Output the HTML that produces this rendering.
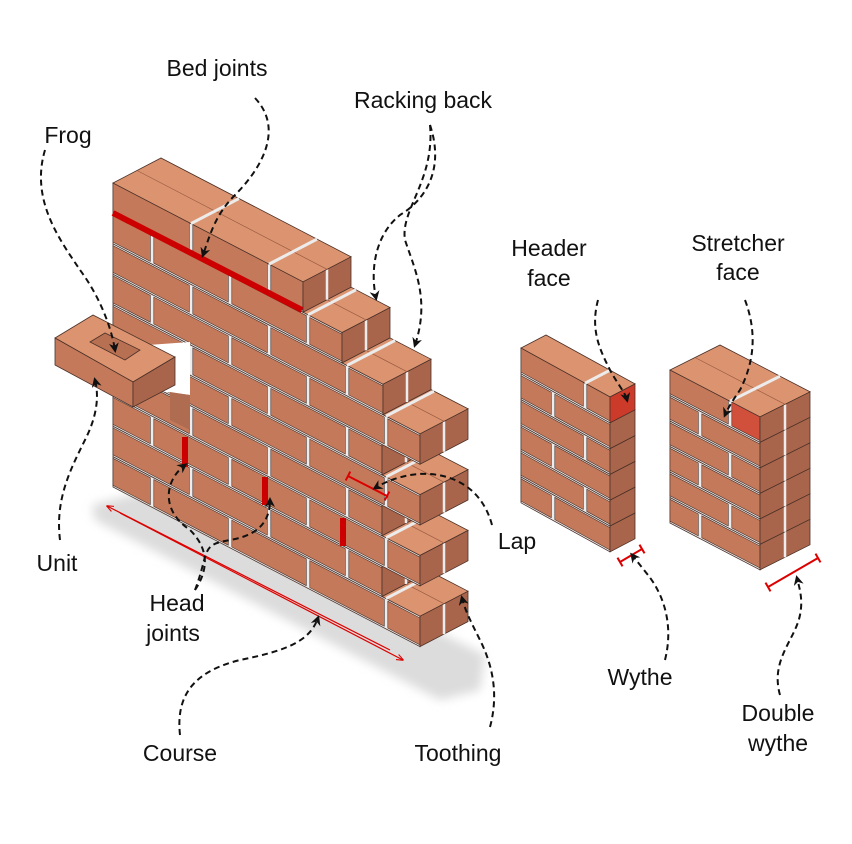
<!DOCTYPE html>
<html><head><meta charset="utf-8"><style>
html,body{margin:0;padding:0;background:#fff;}
svg{display:block}
text{font-family:"Liberation Sans",sans-serif;font-size:23px;fill:#111;}
</style></head><body>
<svg id="s" width="852" height="844" viewBox="0 0 852 844" xmlns="http://www.w3.org/2000/svg">
<defs>
<filter id="bl" x="-20%" y="-20%" width="140%" height="140%"><feGaussianBlur stdDeviation="5"/></filter>
<marker id="ah" viewBox="0 0 10 10" refX="7" refY="5" markerWidth="5" markerHeight="5" orient="auto"><path d="M0,0 L10,5 L0,10 L3,5 z" fill="#111"/></marker>
<marker id="ra" viewBox="0 0 10 10" refX="9" refY="5" markerWidth="6" markerHeight="6" orient="auto"><path d="M0,1 L10,5 L0,9" fill="none" stroke="#d00" stroke-width="1.5"/></marker>
</defs>
<polygon points="92,505 150,490 485,655 480,690 440,700 95,520" fill="#dcdcdc" filter="url(#bl)"/>
<g id="walls"></g>
<g id="over"></g>
</svg>
<script>
const NS="http://www.w3.org/2000/svg";
const W=document.getElementById('walls');
function el(t,a,p){const e=document.createElementNS(NS,t);for(const k in a)e.setAttribute(k,a[k]);(p||W).appendChild(e);return e;}
function pts(a){return a.map(p=>p[0].toFixed(1)+','+p[1].toFixed(1)).join(' ');}
const FRONT='#c47a5a',TOP='#dc9470',END='#a9654b',MORT='#ececec',LINE='#4a3028';
function wall(o){
 const P=(u,v)=>[o.x+u,o.y+o.s*u+v];
 const D=o.D, add=(p)=>[p[0]+D[0],p[1]+D[1]];
 const n=o.ends.length,h=o.h;
 for(let k=n-1;k>=0;k--){
  const e=o.ends[k],v0=k*h,v1=(k+1)*h;
  el('polygon',{points:pts([P(0,v0),P(e,v0),P(e,v1),P(0,v1)]),fill:MORT,stroke:LINE,'stroke-width':0.8});
  const off=(k%2)?o.L/2:0;
  let joints=[0];
  for(let u=(off?off:o.L);u<e-1;u+=o.L)joints.push(u);
  joints.push(e);
  const g=3.5;
  for(let i=0;i<joints.length-1;i++){
   const a=joints[i]+(i?g/2:0),b=joints[i+1]-(i<joints.length-2?g/2:0);
   let fc=FRONT; if(o.red&&o.red(k,a,b))fc='#d0503c';
   el('polygon',{points:pts([P(a,v0+(k?g/2:0)),P(b,v0+(k?g/2:0)),P(b,v1-g/2),P(a,v1-g/2)]),fill:fc,stroke:LINE,'stroke-width':0.6});
  }
  const ef=[P(e,v0),add(P(e,v0)),add(P(e,v1)),P(e,v1)];
  el('polygon',{points:pts(ef),fill:(o.endRed&&k==0)?'#cc3a2a':END,stroke:LINE,'stroke-width':0.8});
  if(o.twoDeep){const m=[P(e,v0),P(e,v1)].map(p=>[p[0]+D[0]/2,p[1]+D[1]/2]);el('line',{x1:m[0][0],y1:m[0][1],x2:m[1][0],y2:m[1][1],stroke:MORT,'stroke-width':2.5});}
  const prev=k==0?0:o.ends[k-1];
  if(e>prev+0.5||k==0){
   const a=k==0?0:prev;
   el('polygon',{points:pts([P(a,v0),P(e,v0),add(P(e,v0)),add(P(a,v0))]),fill:TOP,stroke:LINE,'stroke-width':0.8});
   if(o.twoDeep){const m1=P(a,v0),m2=P(e,v0);el('line',{x1:m1[0]+D[0]/2,y1:m1[1]+D[1]/2,x2:m2[0]+D[0]/2,y2:m2[1]+D[1]/2,stroke:'#9a5a40','stroke-width':0.7});}
   for(const j of joints){if(j>a+2&&j<e-2){const q=P(j,v0),r=add(q);el('line',{x1:q[0],y1:q[1],x2:r[0],y2:r[1],stroke:MORT,'stroke-width':3});}}
  }
 }
}
wall({x:113,y:183,s:0.52,h:30.4,L:78,D:[48,-25],twoDeep:true,ends:[190,229,270,307,269,307,269,307,269,307]});
el('polygon',{points:'148,345 190,342 190,395 150,390',fill:'#fff'});
el('polygon',{points:'170,392 190,395 190,430 170,420',fill:'#b06c50'});
el('polygon',{points:'55,338 93,315 175,357 133,382',fill:TOP,stroke:LINE,'stroke-width':0.8});
el('polygon',{points:'55,338 133,382 133,407 55,365',fill:FRONT,stroke:LINE,'stroke-width':0.8});
el('polygon',{points:'133,382 175,357 175,385 133,407',fill:END,stroke:LINE,'stroke-width':0.8});
el('polygon',{points:'90,342 105,333 140,350 125,360',fill:'#b87052',stroke:LINE,'stroke-width':0.8});
wall({x:521,y:348,s:0.55,h:25.8,L:64,D:[25,-13],endRed:true,ends:[89,89,89,89,89,89]});
wall({x:670,y:370,s:0.52,h:25.5,L:60,D:[50,-25],twoDeep:true,ends:[90,90,90,90,90,90],red:(k,a,b)=>k==0&&a>20});

const O=document.getElementById('over');
function line(x1,y1,x2,y2,c,w){el('line',{x1,y1,x2,y2,stroke:c,'stroke-width':w},O);}
line(113,213,302,310,'#c00',6);
line(185,437,185,467,'#c00',6);line(265,477,265,505,'#c00',6);line(343,518,343,546,'#c00',6);
el('line',{x1:390,y1:650,x2:107,y2:506,stroke:'#d00','stroke-width':1.2,'marker-end':'url(#ra)'},O);
el('line',{x1:120,y1:513,x2:403,y2:660,stroke:'#d00','stroke-width':1.2,'marker-end':'url(#ra)'},O);
function tbar(x1,y1,x2,y2){line(x1,y1,x2,y2,'#d00',2);const dx=x2-x1,dy=y2-y1,l=Math.hypot(dx,dy),nx=-dy/l*5,ny=dx/l*5;line(x1-nx,y1-ny,x1+nx,y1+ny,'#d00',2);line(x2-nx,y2-ny,x2+nx,y2+ny,'#d00',2);}
tbar(348,476,387,496);tbar(620,562,642,549);tbar(768,587,818,558);
const arrows=['M255,98 C285,130 260,170 235,195 C215,215 210,235 203,255',
'M430,125 C445,170 425,200 400,215 C375,235 370,270 376,298',
'M430,125 C435,180 400,210 405,240 C415,270 430,300 415,345',
'M45,150 C30,200 60,240 80,270 C95,290 110,320 115,350',
'M60,540 C55,500 70,470 85,440 C95,420 100,400 95,380',
'M195,590 C215,560 200,540 190,530 C160,510 165,480 185,465',
'M195,590 C210,550 200,545 230,540 C260,535 270,520 270,500',
'M492,525 C480,480 440,470 410,475 C395,478 385,482 375,488',
'M180,735 C175,690 200,670 240,660 C290,650 310,640 318,618',
'M490,727 C500,690 490,660 480,640 C470,620 465,610 462,598',
'M665,660 C675,620 660,590 648,575 C640,565 636,560 632,555',
'M780,695 C770,660 795,640 800,615 C803,600 800,590 797,578',
'M598,300 C590,330 600,350 610,370 C618,385 625,392 627,400',
'M745,300 C760,340 750,370 740,390 C733,400 728,408 725,415'];
for(const d of arrows)el('path',{d,fill:'none',stroke:'#111','stroke-width':2,'stroke-dasharray':'6,4','marker-end':'url(#ah)'},O);
const labels=[['Bed joints',217,76],['Racking back',423,108],['Frog',68,143],['Header',549,256],['face',549,286],['Stretcher',738,251],['face',738,280],['Unit',57,571],['Head',177,611],['joints',173,641],['Lap',517,549],['Wythe',640,685],['Double',778,721],['wythe',778,751],['Course',180,761],['Toothing',458,761]];
for(const [t,x,y] of labels){const e=el('text',{x,y,'text-anchor':'middle'},O);e.textContent=t;}
</script>
</body></html>
